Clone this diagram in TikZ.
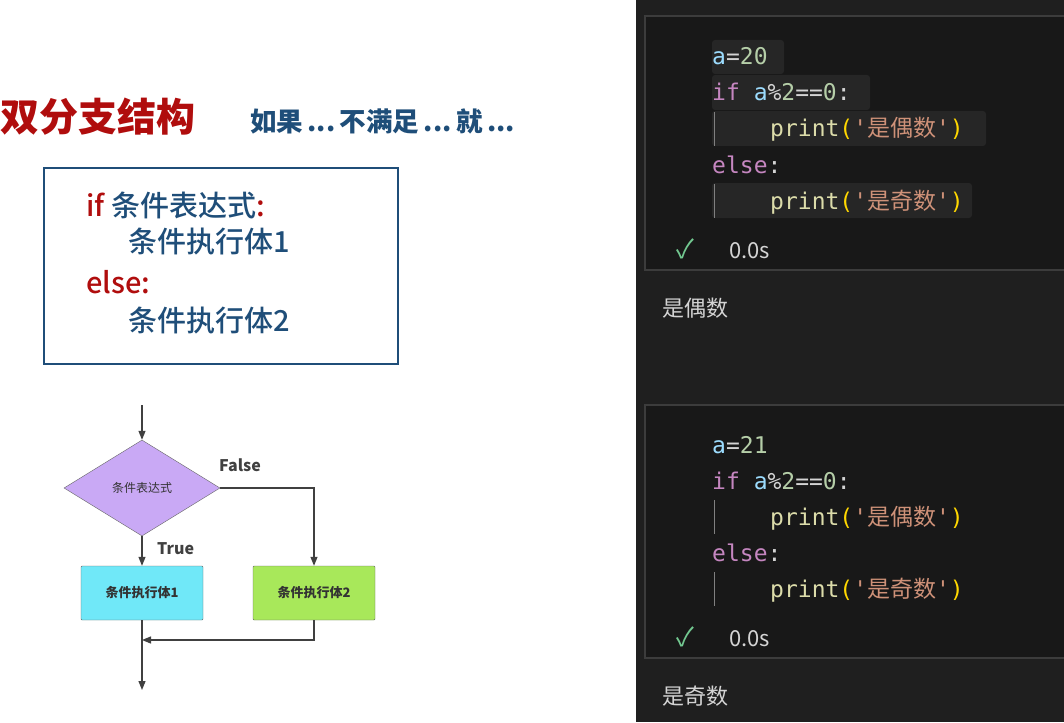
\documentclass[tikz,border=0pt]{standalone}
\usepackage{fontspec}
\setmainfont{Noto Sans CJK SC}
\newfontfamily\cjk{Noto Sans CJK SC}
\newfontfamily\cjkmed{Noto Sans CJK SC Medium}
\setmonofont{DejaVu Sans Mono}
\usetikzlibrary{positioning,shapes.geometric,arrows.meta}
\definecolor{darkred}{HTML}{B00D0D}
\definecolor{navy}{HTML}{1F4E79}
\definecolor{panel}{HTML}{1F1F1F}
\definecolor{cellbg}{HTML}{181818}
\definecolor{cellline}{HTML}{3C3C3C}
\definecolor{cvar}{HTML}{9CDCFE}
\definecolor{cnum}{HTML}{B5CEA8}
\definecolor{ckey}{HTML}{C586C0}
\definecolor{cfun}{HTML}{DCDCAA}
\definecolor{cbrk}{HTML}{FFD700}
\definecolor{cstr}{HTML}{CE9178}
\definecolor{cplain}{HTML}{D4D4D4}
\definecolor{cok}{HTML}{73C991}
\definecolor{lavender}{HTML}{C9A9F5}
\definecolor{aqua}{HTML}{70E8F8}
\definecolor{leaf}{HTML}{A8E85A}
\newcommand{\zh}[1]{{\cjk #1}}
\tikzset{
  code/.style={anchor=base west, inner sep=0pt, text=cplain, font=\ttfamily\fontsize{23}{23}\selectfont},
  outtext/.style={anchor=base west, inner sep=0pt, text=cplain, font=\fontsize{22}{22}\selectfont},
  flowbox/.style={draw=black!60, rounded corners=1pt, minimum width=122pt, minimum height=54pt, inner sep=0pt, font=\bfseries\fontsize{13}{13}\selectfont, text=black!80},
  flow/.style={draw=black!75, line width=1.2pt, -{Triangle[length=9pt,width=7pt]}},
  cell/.style={draw=cellline, fill=cellbg, line width=1.2pt},
  guide/.style={draw=black!50, line width=1pt}
}
\begin{document}
\begin{tikzpicture}[x=1pt,y=-1pt]
	\useasboundingbox (0,0) rectangle (1064,722);
	\fill[white] (0,0) rectangle (636,722);
	\fill[panel] (636,0) rectangle (1064,722);
	
	% left side
	\node[anchor=base west, inner sep=0pt, text=darkred, font=\bfseries\fontsize{39}{39}\selectfont] (title) at (0,132) {双分支结构};
	\node[anchor=base west, inner sep=0pt, text=navy, font=\bfseries\fontsize{26.5}{26.5}\selectfont] (hint) at (250,132) {如果\,...\,不满足\,...\,就\,...};
	\draw[navy, line width=2.5pt] (44,168) rectangle (398,364);
	\begin{scope}[every node/.style={anchor=base west, inner sep=0pt, font=\cjkmed\fontsize{29}{29}\selectfont}]
		\node (l1) at (86,216) {\textcolor{darkred}{if} \textcolor{navy}{条件表达式}\textcolor{darkred}{:}};
		\node[text=navy] (l2) at (128,252) {条件执行体1};
		\node[text=darkred] (l3) at (86,293) {else:};
		\node[text=navy] (l4) at (128,331) {条件执行体2};
	\end{scope}
	
	% flowchart
	\coordinate (start) at (142,405);
	\node[diamond, draw=black!60, fill=lavender, aspect=1.63, minimum width=156pt, minimum height=96pt, inner sep=0pt, font=\fontsize{12}{12}\selectfont, text=black!80] (cond) at (142,488) {条件表达式};
	\node[flowbox, fill=aqua] (body1) at (142,593) {条件执行体1};
	\node[flowbox, fill=leaf] (body2) at (314,593) {条件执行体2};
	\coordinate (join) at (142,640);
	\coordinate (end) at (142,690);
	\draw[flow] (start) -- (cond.north);
	\draw[flow] (cond.south) -- (body1.north);
	\draw[flow] (cond.east) -| (body2.north);
	\draw[flow] (body2.south) |- (join);
	\draw[flow] (body1.south) -- (end);
	\node[anchor=base west, inner sep=0pt, font=\bfseries\fontsize{16}{16}\selectfont, text=black!75] (lfalse) at (219,471) {False};
	\node[anchor=base west, inner sep=0pt, font=\bfseries\fontsize{16}{16}\selectfont, text=black!75] (ltrue) at (157,554) {True};
	
	% notebook cells
	\draw[cell] (645,16) rectangle (1070,270);
	\draw[cell] (645,405) rectangle (1070,658);
	\fill[black!85!white, rounded corners=3pt] (712,40) rectangle (784,74) (712,75) rectangle (870,110) (712,111) rectangle (986,146) (712,183) rectangle (972,218);
	\foreach \y in {0,388} {
		\node[code] (a\y) at (712,65+\y) {\textcolor{cvar}{a}=\textcolor{cnum}{2\ifnum\y=0 0\else 1\fi}};
		\node[code] (if\y) at (712,101+\y) {\textcolor{ckey}{if} \textcolor{cvar}{a}\%\textcolor{cnum}{2}==\textcolor{cnum}{0}:};
		\node[code] (p\y) at (770,137+\y) {\textcolor{cfun}{print}\textcolor{cbrk}{(}\textcolor{cstr}{'\zh{是偶数}'}\textcolor{cbrk}{)}};
		\node[code] (else\y) at (712,173+\y) {\textcolor{ckey}{else}:};
		\node[code] (q\y) at (770,209+\y) {\textcolor{cfun}{print}\textcolor{cbrk}{(}\textcolor{cstr}{'\zh{是奇数}'}\textcolor{cbrk}{)}};
		\draw[guide] (714,112+\y) -- (714,146+\y) (714,184+\y) -- (714,218+\y);
		\node[anchor=base west, inner sep=0pt, text=cok, font=\fontsize{26}{26}\selectfont\cjk] (ok\y) at (676,258+\y) {✓};
		\node[outtext] (t\y) at (729,258+\y) {0.0s};
	}
	\node[outtext] (res1) at (662,316) {是偶数};
	\node[outtext] (res2) at (662,704) {是奇数};
\end{tikzpicture}
\end{document}
